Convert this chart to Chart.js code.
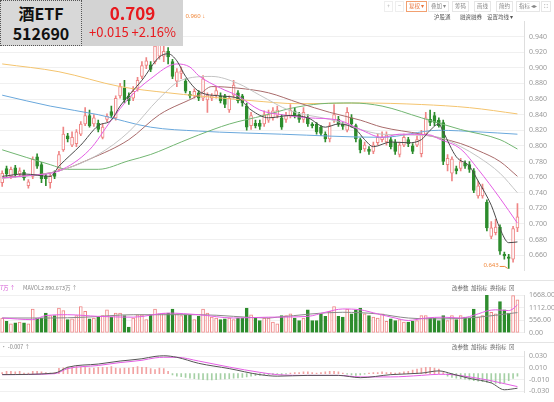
<!DOCTYPE html>
<html>
<head>
<meta charset="utf-8">
<script src="https://cdn.jsdelivr.net/npm/chart.js@4.4.0/dist/chart.umd.min.js"></script>
<style>
    html, body { margin: 0; padding: 0; background: #fff; }
    body { width: 554px; height: 402px; position: relative; overflow: hidden;
           font-family: "Noto Sans CJK SC", "Noto Sans", sans-serif; }
    .panel { position: absolute; left: 0; width: 554px; }
    .sep { position: absolute; left: 0; width: 554px; height: 1px; background: #e4e4e4; }
    .box { position: absolute; top: 0; height: 46px; box-sizing: border-box; text-align: center; }
    .tb { position: absolute; top: 1px; height: 9px; line-height: 9px; font-size: 5.5px; color: #888;
          border: 1px solid #e6e6e6; padding: 0 2px; background: #fff; white-space: nowrap; }
    .t6 { position: absolute; font-size: 5.5px; line-height: 8px; white-space: nowrap; }
</style>
</head>
<body>
<div class="panel" style="top:0;height:280px;"><canvas id="priceChart"></canvas></div>
<div class="sep" style="top:280px;"></div>
<div class="panel" style="top:280px;height:62px;"><canvas id="volChart"></canvas></div>
<div class="sep" style="top:342px;"></div>
<div class="panel" style="top:342px;height:60px;"><canvas id="macdChart"></canvas></div>

<!-- quote boxes -->
<div class="box" style="left:0;width:82px;background:#d8d8d8;border:1px dotted #555;">
    <div style="font-weight:bold;font-size:16px;line-height:20px;margin-top:2px;color:#111;">酒ETF</div>
    <div style="font-weight:bold;font-size:16px;line-height:20px;color:#111;">512690</div>
</div>
<div class="box" style="left:82px;width:101px;background:#d3d3d3;">
    <div style="font-weight:bold;font-size:17px;line-height:22px;margin-top:2px;color:#e8191e;">0.709</div>
    <div style="font-size:13px;line-height:16px;color:#e8191e;">+0.015 +2.16%</div>
</div>

<!-- toolbar -->
<div class="tb" style="left:384px;border-color:#eee;color:#aaa;">+</div>
<div class="tb" style="left:395px;border-color:#eee;color:#aaa;">−</div>
<div class="tb" style="left:406px;color:#e8743b;border-color:#f2a070;">复权 ▾</div>
<div class="tb" style="left:428px;">叠加 ▾</div>
<div class="tb" style="left:452px;">筹码</div>
<div class="tb" style="left:474px;">画线</div>
<div class="tb" style="left:496px;">简约</div>
<div class="tb" style="left:516px;">指标 ◂▸</div>
<div class="tb" style="left:541px;">⛶</div>
<div class="t6" style="left:434px;top:13px;color:#555;">沪股通</div>
<div class="t6" style="left:460px;top:13px;color:#555;">融资融券</div>
<div class="t6" style="left:487px;top:13px;color:#555;">设置均线 ▾</div>

<!-- indicator headers -->
<div class="t6" style="left:0;top:284px;color:#d24fd2;">7万 ↑</div>
<div class="t6" style="left:23px;top:284px;color:#888;">MAVOL2 890.673万 ↑</div>
<div class="t6" style="left:452px;top:284px;color:#666;">改参数 &nbsp;加指标 &nbsp;换指标 &nbsp;⊠</div>
<div class="t6" style="left:1px;top:343px;color:#888;">· -0.007 ↑</div>
<div class="t6" style="left:452px;top:343px;color:#666;">改参数 &nbsp;加指标 &nbsp;换指标 &nbsp;⊠</div>

<script>
// ---- data ----
const days = Array.from({ length: 120 }, (_, i) => i + 1);

const opens = [0.753, 0.771, 0.761, 0.772, 0.764, 0.766, 0.749, 0.761, 0.786, 0.776,
    0.761, 0.753, 0.765, 0.770, 0.795, 0.813, 0.801, 0.803, 0.815, 0.828,
    0.839, 0.828, 0.829, 0.811, 0.834, 0.844, 0.836, 0.864, 0.874, 0.864,
    0.861, 0.874, 0.889, 0.903, 0.904, 0.908, 0.915, 0.915, 0.921, 0.908,
    0.883, 0.893, 0.883, 0.866, 0.864, 0.868, 0.861, 0.859, 0.861, 0.865,
    0.864, 0.864, 0.846, 0.865, 0.868, 0.864, 0.851, 0.826, 0.829, 0.829,
    0.828, 0.833, 0.836, 0.839, 0.836, 0.834, 0.839, 0.845, 0.840, 0.834,
    0.836, 0.828, 0.828, 0.824, 0.815, 0.809, 0.833, 0.834, 0.828, 0.820,
    0.836, 0.826, 0.808, 0.796, 0.796, 0.793, 0.804, 0.808, 0.805, 0.808,
    0.805, 0.789, 0.801, 0.808, 0.800, 0.801, 0.790, 0.815, 0.834, 0.839,
    0.833, 0.830, 0.776, 0.765, 0.771, 0.771, 0.778, 0.776, 0.768, 0.736,
    0.736, 0.728, 0.684, 0.689, 0.696, 0.661, 0.658, 0.655, 0.695];
const highs = [0.768, 0.774, 0.773, 0.775, 0.772, 0.769, 0.757, 0.786, 0.790, 0.779,
    0.764, 0.764, 0.768, 0.793, 0.824, 0.816, 0.818, 0.821, 0.831, 0.849,
    0.846, 0.840, 0.833, 0.828, 0.841, 0.851, 0.864, 0.880, 0.884, 0.868,
    0.876, 0.888, 0.908, 0.913, 0.908, 0.945, 0.960, 0.930, 0.926, 0.911,
    0.899, 0.901, 0.886, 0.870, 0.873, 0.871, 0.890, 0.868, 0.867, 0.875,
    0.868, 0.866, 0.864, 0.884, 0.871, 0.866, 0.855, 0.843, 0.833, 0.833,
    0.845, 0.846, 0.849, 0.851, 0.840, 0.843, 0.853, 0.849, 0.843, 0.849,
    0.840, 0.830, 0.830, 0.826, 0.818, 0.830, 0.853, 0.838, 0.830, 0.849,
    0.840, 0.828, 0.810, 0.805, 0.799, 0.805, 0.815, 0.818, 0.818, 0.811,
    0.808, 0.805, 0.815, 0.811, 0.803, 0.813, 0.820, 0.843, 0.846, 0.843,
    0.836, 0.833, 0.789, 0.786, 0.774, 0.784, 0.781, 0.780, 0.771, 0.755,
    0.751, 0.731, 0.703, 0.706, 0.699, 0.664, 0.661, 0.697, 0.726];
const lows = [0.748, 0.761, 0.758, 0.760, 0.761, 0.756, 0.746, 0.758, 0.771, 0.753,
    0.749, 0.746, 0.758, 0.768, 0.793, 0.805, 0.799, 0.799, 0.813, 0.826,
    0.824, 0.825, 0.818, 0.809, 0.831, 0.836, 0.833, 0.861, 0.855, 0.853,
    0.858, 0.870, 0.886, 0.899, 0.895, 0.905, 0.911, 0.908, 0.905, 0.886,
    0.876, 0.886, 0.868, 0.861, 0.861, 0.858, 0.858, 0.843, 0.858, 0.861,
    0.855, 0.849, 0.843, 0.861, 0.855, 0.851, 0.820, 0.821, 0.823, 0.821,
    0.825, 0.830, 0.833, 0.836, 0.821, 0.830, 0.836, 0.836, 0.830, 0.830,
    0.825, 0.823, 0.815, 0.813, 0.805, 0.805, 0.830, 0.825, 0.821, 0.818,
    0.824, 0.805, 0.791, 0.793, 0.789, 0.790, 0.801, 0.805, 0.801, 0.796,
    0.789, 0.786, 0.799, 0.799, 0.790, 0.799, 0.786, 0.813, 0.826, 0.826,
    0.824, 0.776, 0.768, 0.755, 0.764, 0.768, 0.771, 0.766, 0.740, 0.733,
    0.733, 0.691, 0.681, 0.686, 0.661, 0.655, 0.643, 0.651, 0.690];
const closes = [0.765, 0.764, 0.770, 0.763, 0.768, 0.759, 0.754, 0.783, 0.774, 0.758,
    0.758, 0.761, 0.761, 0.789, 0.815, 0.809, 0.811, 0.818, 0.828, 0.839,
    0.826, 0.836, 0.821, 0.824, 0.838, 0.839, 0.861, 0.876, 0.859, 0.858,
    0.870, 0.884, 0.903, 0.909, 0.898, 0.928, 0.936, 0.921, 0.914, 0.889,
    0.895, 0.896, 0.870, 0.864, 0.870, 0.861, 0.886, 0.865, 0.864, 0.871,
    0.858, 0.853, 0.861, 0.878, 0.858, 0.855, 0.824, 0.839, 0.826, 0.825,
    0.840, 0.840, 0.845, 0.846, 0.824, 0.839, 0.846, 0.839, 0.834, 0.843,
    0.828, 0.826, 0.818, 0.816, 0.809, 0.826, 0.840, 0.828, 0.825, 0.843,
    0.828, 0.809, 0.795, 0.801, 0.793, 0.801, 0.811, 0.811, 0.814, 0.799,
    0.793, 0.801, 0.811, 0.803, 0.793, 0.808, 0.815, 0.836, 0.830, 0.830,
    0.826, 0.780, 0.784, 0.783, 0.768, 0.780, 0.774, 0.770, 0.743, 0.749,
    0.746, 0.695, 0.695, 0.696, 0.665, 0.659, 0.656, 0.694, 0.709];

// moving averages, sampled as [day index, value]
const ma5Pts = [[0, 0.761], [5, 0.764], [11, 0.761], [13, 0.774], [18, 0.801], [22, 0.826], [25, 0.833],
    [27, 0.851], [32, 0.884], [36, 0.914], [38, 0.918], [40, 0.909], [42, 0.889], [45, 0.870], [50, 0.864],
    [54, 0.861], [57, 0.846], [61, 0.836], [66, 0.839], [70, 0.836], [74, 0.824], [77, 0.828], [81, 0.821],
    [83, 0.808], [85, 0.799], [89, 0.805], [93, 0.804], [96, 0.808], [98, 0.820], [100, 0.828], [101, 0.818],
    [104, 0.786], [107, 0.774], [109, 0.755], [112, 0.724], [114, 0.694], [116, 0.676], [118, 0.677]];
const ma10Pts = [[0, 0.759], [6, 0.762], [13, 0.768], [20, 0.795], [25, 0.833], [29, 0.861], [34, 0.886],
    [40, 0.905], [43, 0.901], [45, 0.890], [50, 0.874], [54, 0.864], [59, 0.846], [64, 0.840], [70, 0.836],
    [77, 0.833], [82, 0.821], [87, 0.811], [91, 0.815], [98, 0.814], [100, 0.809], [105, 0.796],
    [109, 0.770], [114, 0.733], [118, 0.701]];
const ma20Pts = [[0, 0.758], [13, 0.768], [22, 0.789], [29, 0.818], [36, 0.861], [41, 0.884], [48, 0.889],
    [54, 0.880], [59, 0.865], [66, 0.845], [75, 0.834], [87, 0.815], [93, 0.814], [100, 0.811],
    [105, 0.799], [109, 0.786], [114, 0.765], [118, 0.740]];
const ma30Pts = [[0, 0.759], [13, 0.768], [20, 0.783], [29, 0.808], [36, 0.840], [45, 0.865], [48, 0.876],
    [54, 0.874], [61, 0.868], [68, 0.855], [75, 0.843], [82, 0.833], [87, 0.824], [96, 0.815],
    [105, 0.803], [109, 0.794], [114, 0.780], [118, 0.761]];
const ma60Pts = [[0, 0.795], [11, 0.776], [15, 0.770], [22, 0.770], [29, 0.781], [34, 0.789], [41, 0.805],
    [45, 0.814], [52, 0.828], [60, 0.839], [66, 0.848], [73, 0.854], [80, 0.855], [87, 0.851], [96, 0.836],
    [105, 0.821], [114, 0.808], [118, 0.796]];
const ma120Pts = [[0, 0.865], [11, 0.851], [22, 0.840], [34, 0.824], [45, 0.819], [64, 0.815], [87, 0.811],
    [100, 0.820], [109, 0.818], [118, 0.815]];
const ma250Pts = [[0, 0.905], [13, 0.895], [27, 0.876], [38, 0.868], [45, 0.864], [57, 0.858], [68, 0.854],
    [82, 0.855], [96, 0.853], [107, 0.849], [118, 0.841]];

// volume in 万
const volumes = [653, 508, 399, 435, 471, 435, 399, 1051, 653, 653,
    870, 761, 761, 1088, 979, 580, 616, 761, 1160, 943,
    616, 653, 689, 761, 1015, 689, 870, 870, 761, 254,
    653, 798, 798, 580, 798, 1051, 834, 870, 870, 1051,
    834, 761, 798, 798, 580, 725, 1051, 870, 689, 653,
    580, 616, 653, 580, 653, 653, 1088, 798, 653, 544,
    653, 653, 471, 399, 761, 761, 834, 653, 544, 653,
    1015, 544, 544, 834, 725, 943, 1160, 725, 689, 1051,
    834, 1015, 1088, 834, 761, 689, 653, 834, 508, 616,
    544, 580, 471, 471, 508, 544, 761, 761, 653, 653,
    544, 761, 544, 761, 580, 761, 689, 653, 1051, 689,
    761, 1668, 906, 834, 1378, 1015, 870, 1640, 1450];
const mavol1Pts = [[0, 653], [7, 580], [10, 761], [15, 798], [22, 725], [30, 689], [38, 870], [45, 798],
    [53, 653], [61, 689], [70, 725], [74, 906], [78, 1051], [82, 1015], [86, 834], [90, 653], [93, 544],
    [97, 653], [101, 689], [105, 653], [109, 834], [111, 964], [113, 1015], [116, 980], [117, 1060], [118, 1240]];
const mavol2Pts = [[0, 653], [7, 653], [11, 653], [19, 689], [30, 798], [45, 798], [61, 653], [63, 689],
    [78, 906], [86, 834], [93, 653], [101, 616], [109, 689], [117, 870], [118, 891]];

// MACD
const difPts = [[0, -0.0016], [12, 0.001], [15, 0.011], [22, 0.0165], [27, 0.0216], [32, 0.0255], [35, 0.0295],
    [37, 0.0306], [40, 0.028], [45, 0.0177], [52, 0.0087], [59, -0.0016], [63, -0.0042], [70, -0.0029],
    [77, -0.0029], [82, -0.0068], [89, -0.0016], [96, 0.001], [100, 0.0048], [103, -0.0003], [107, -0.008],
    [112, -0.0158], [115, -0.0274], [118, -0.0248]];
const deaPts = [[0, -0.0016], [12, 0.0], [15, 0.0087], [22, 0.014], [27, 0.019], [32, 0.0229], [35, 0.027],
    [37, 0.028], [40, 0.028], [45, 0.0216], [52, 0.0113], [59, 0.0023], [63, -0.0016], [70, -0.0029],
    [77, -0.0029], [82, -0.0055], [89, -0.0055], [96, -0.0029], [100, -0.001], [103, -0.0016],
    [107, -0.0055], [112, -0.012], [115, -0.017], [118, -0.022]];
const macdHist = [0.002, 0.004, 0.004, 0.003, 0.004, 0.001, 0.001, 0.004, 0.004, 0.003,
    0.002, 0.001, 0.002, 0.009, 0.010, 0.0115, 0.012, 0.012, 0.0108, 0.0108,
    0.0095, 0.0095, 0.0108, 0.0108, 0.0108, 0.012, 0.0095, 0.0086, 0.0095, 0.0095,
    0.0108, 0.012, 0.0108, 0.0108, 0.0086, 0.007, 0.0095, 0.0086, 0.004, -0.0022,
    -0.0043, -0.005, -0.0065, -0.0077, -0.0085, -0.0095, -0.0102, -0.0108, -0.0108, -0.0102,
    -0.0095, -0.009, -0.0085, -0.0077, -0.007, -0.0065, -0.0055, -0.0043, -0.0035, -0.003,
    -0.0022, -0.002, -0.0015, -0.001, -0.002, -0.001, 0.001, 0.002, 0.002, 0.003,
    0.003, 0.002, 0.001, 0.002, 0.003, 0.004, 0.004, 0.003, 0.001, -0.001,
    -0.002, -0.003, -0.002, -0.001, 0.001, 0.002, 0.002, 0.003, 0.002, 0.002,
    0.001, 0.002, 0.003, 0.004, 0.006, 0.008, 0.0095, 0.0108, 0.0108, 0.0095,
    0.008, 0.002, -0.0043, -0.0065, -0.0077, -0.0085, -0.0095, -0.0108, -0.012, -0.0128,
    -0.0138, -0.015, -0.0155, -0.0165, -0.0172, -0.016, -0.012, -0.008, -0.0043];

// axis tick labels
const priceTicks = [0.66, 0.68, 0.70, 0.72, 0.74, 0.76, 0.78, 0.80, 0.82, 0.84, 0.86, 0.88, 0.90, 0.92, 0.94];
const volTicks = [0, 556, 1112, 1668];
const macdTicks = [-0.03, -0.01, 0.01, 0.03];

// ---- styling ----
const UP = '#ef8585';
const DOWN = '#2d8c2d';
const GRID = '#f0f0f0';
const TICK_FONT = { family: 'Noto Sans', size: 7 };

const isUp = opens.map((o, i) => closes[i] >= o);

function sparse(points) {
    const arr = new Array(days.length).fill(null);
    points.forEach(([i, v]) => { arr[i] = v; });
    return arr;
}

function maLine(points, color) {
    return {
        type: 'line',
        data: sparse(points),
        borderColor: color,
        borderWidth: 1,
        pointRadius: 0,
        spanGaps: true,
        cubicInterpolationMode: 'monotone',
        order: 0
    };
}

function rightAxis(ticks, min, max, fmt) {
    return {
        position: 'right',
        min: min,
        max: max,
        afterBuildTicks: s => { s.ticks = ticks.map(v => ({ value: v })); },
        afterFit: s => { s.width = 30; },
        grid: { color: GRID, drawTicks: false },
        border: { color: '#dedede' },
        ticks: { color: '#999', font: TICK_FONT, padding: 5, callback: fmt }
    };
}

const baseOptions = {
    animation: false,
    responsive: true,
    maintainAspectRatio: false,
    plugins: { legend: { display: false }, tooltip: { enabled: false } }
};

// high/low price labels
const extremeMarks = {
    id: 'extremeMarks',
    afterDatasetsDraw(chart) {
        const { ctx, scales: { x, y } } = chart;
        const lowIdx = lows.indexOf(Math.min(...lows));
        const highIdx = highs.indexOf(Math.max(...highs));
        ctx.save();
        ctx.font = '6px "Noto Sans"';
        ctx.fillStyle = '#f0873a';
        ctx.strokeStyle = '#f0873a';
        ctx.lineWidth = 1;
        ctx.textBaseline = 'middle';

        const lx = x.getPixelForValue(lowIdx);
        const ly = y.getPixelForValue(lows[lowIdx]);
        ctx.textAlign = 'right';
        ctx.fillText(lows[lowIdx].toFixed(3), lx - 10, ly - 3);
        ctx.beginPath();
        ctx.moveTo(lx - 9, ly - 2);
        ctx.lineTo(lx - 4, ly - 2);
        ctx.lineTo(lx - 1, ly);
        ctx.stroke();

        const hx = x.getPixelForValue(highIdx);
        ctx.textAlign = 'left';
        ctx.fillText(highs[highIdx].toFixed(3) + ' ↓', hx + 26, 16);
        ctx.restore();
    }
};

document.addEventListener('DOMContentLoaded', function () {
    initPriceChart();
    initVolumeChart();
    initMacdChart();
});

function initPriceChart() {
    const ctx = document.getElementById('priceChart');
    new Chart(ctx, {
        type: 'bar',
        data: {
            labels: days,
            datasets: [
                maLine(ma5Pts, '#4a4a4a'),
                maLine(ma10Pts, '#e45ee4'),
                maLine(ma20Pts, '#c4c4c4'),
                maLine(ma30Pts, '#a96b6b'),
                maLine(ma60Pts, '#72b672'),
                maLine(ma120Pts, '#6aa8dc'),
                maLine(ma250Pts, '#f4c46e'),
                {
                    data: opens.map((o, i) => [o, closes[i]]),
                    backgroundColor: isUp.map(u => u ? '#ffffff' : DOWN),
                    borderColor: isUp.map(u => u ? UP : DOWN),
                    borderWidth: 1,
                    borderSkipped: false,
                    barThickness: 3,
                    grouped: false,
                    order: 1
                },
                {
                    data: lows.map((l, i) => [l, highs[i]]),
                    backgroundColor: isUp.map(u => u ? UP : DOWN),
                    borderWidth: 0,
                    barThickness: 1,
                    grouped: false,
                    order: 2
                }
            ]
        },
        options: {
            ...baseOptions,
            layout: { padding: { top: 21, bottom: 3, left: 0, right: 0 } },
            scales: {
                x: { display: false },
                y: rightAxis(priceTicks, 0.640, 0.960, v => v.toFixed(3))
            }
        },
        plugins: [extremeMarks]
    });
}

function initVolumeChart() {
    const ctx = document.getElementById('volChart');
    new Chart(ctx, {
        type: 'bar',
        data: {
            labels: days,
            datasets: [
                maLine(mavol1Pts, '#e45ee4'),
                maLine(mavol2Pts, '#8a8a8a'),
                {
                    data: volumes,
                    backgroundColor: isUp.map(u => u ? '#ffffff' : DOWN),
                    borderColor: isUp.map(u => u ? UP : DOWN),
                    borderWidth: 1,
                    borderSkipped: false,
                    barThickness: 3,
                    order: 1
                }
            ]
        },
        options: {
            ...baseOptions,
            layout: { padding: { top: 15, bottom: 1, left: 0, right: 0 } },
            scales: {
                x: { display: false },
                y: rightAxis(volTicks, 0, 1668, v => v.toFixed(2))
            }
        }
    });
}

function initMacdChart() {
    const ctx = document.getElementById('macdChart');
    new Chart(ctx, {
        type: 'bar',
        data: {
            labels: days,
            datasets: [
                maLine(difPts, '#555555'),
                maLine(deaPts, '#e45ee4'),
                {
                    data: macdHist,
                    backgroundColor: macdHist.map(v => v >= 0 ? '#f2a3a3' : '#a5d0a5'),
                    barThickness: 1,
                    order: 1
                }
            ]
        },
        options: {
            ...baseOptions,
            layout: { padding: { top: 4, bottom: 1, left: 0, right: 0 } },
            scales: {
                x: { display: false },
                y: rightAxis(macdTicks, -0.0326, 0.0384, v => v.toFixed(3))
            }
        }
    });
}
</script>
</body>
</html>
